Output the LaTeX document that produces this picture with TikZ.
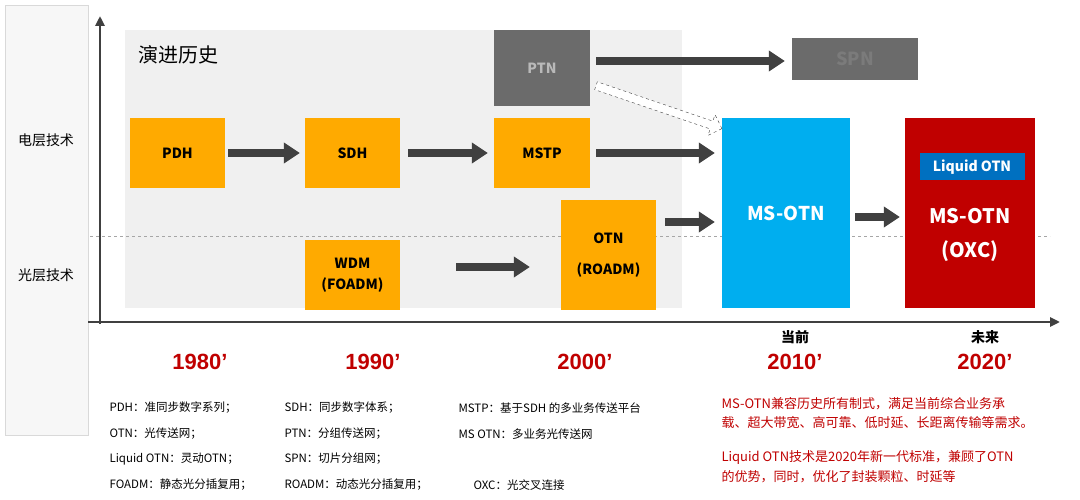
\documentclass[tikz,border=0pt]{standalone}
\usepackage{fontspec}
\setmainfont{Noto Sans CJK SC}
\newfontfamily\yrfont{Liberation Sans Bold}
\usetikzlibrary{arrows.meta,shapes.arrows}
\definecolor{org}{HTML}{FFAA00}
\definecolor{dg}{HTML}{6B6B6B}
\definecolor{arr}{HTML}{404040}
\definecolor{rd}{HTML}{C00000}
\definecolor{bl}{HTML}{00AEEF}
\definecolor{lq}{HTML}{0070C0}
\tikzset{
 box/.style={fill=org,inner sep=0,font=\fontsize{14}{17}\selectfont\bfseries,text=black,align=center},
 bigarr/.style={arr,line width=8pt,-{Triangle[width=20pt,length=16pt]}},
 yr/.style={text=rd,font=\fontsize{22}{24}\yrfont},
 note/.style={anchor=west,font=\fontsize{11.5}{13}\selectfont,text=black},
 rnote/.style={anchor=west,font=\fontsize{13}{16}\selectfont,text=rd},
}
\begin{document}
\begin{tikzpicture}[x=1pt,y=-1pt]
\useasboundingbox (0,0) rectangle (1080,500);
\fill[white] (0,0) rectangle (1080,500);
\draw[gray!30,fill=gray!6] (5,5) rectangle (88,435);
\node[font=\fontsize{14}{16}\selectfont] (l1) at (46,140) {电层技术};
\node[font=\fontsize{14}{16}\selectfont] (l2) at (46,275) {光层技术};
\fill[gray!12] (125,30) rectangle (682,308);
\node[anchor=west,font=\fontsize{20}{22}\selectfont] (hist) at (135,55) {演进历史};
\draw[gray!70,dashed] (90,236) -- (1050,236);
\draw[arr,line width=2.5pt,-{Triangle[width=9pt,length=10pt]}] (100,324) -- (100,16);
\draw[arr,line width=2.5pt,-{Triangle[width=9pt,length=10pt]}] (88,322) -- (1060,322);
\node[box,minimum width=95pt,minimum height=70pt] (pdh) at (177.5,153) {PDH};
\node[box,minimum width=95pt,minimum height=70pt] (sdh) at (352.5,153) {SDH};
\node[box,minimum width=96pt,minimum height=70pt] (mstp) at (542,153) {MSTP};
\node[box,fill=dg,text=gray!55,minimum width=96pt,minimum height=76pt] (ptn) at (542,68) {PTN};
\node[box,fill=dg,text=gray!80!dg,font=\fontsize{18}{20}\selectfont\bfseries,minimum width=126pt,minimum height=42pt] (spn) at (855,59) {SPN};
\node[box,minimum width=95pt,minimum height=70pt] (wdm) at (352.5,275) {WDM\\[4pt](FOADM)};
\node[box,minimum width=95pt,minimum height=110pt] (otn) at (608.5,255) {OTN\\[14pt](ROADM)};
\node[box,fill=bl,text=white,font=\fontsize{19}{22}\selectfont\bfseries,minimum width=128pt,minimum height=190pt] (ms) at (786,213) {MS-OTN};
\node[box,fill=rd,minimum width=130pt,minimum height=190pt] (oxc) at (970,213) {};
\node[text=white,font=\fontsize{20}{34}\selectfont\bfseries,align=center] (oxct) at (970,235) {MS-OTN\\(OXC)};
\node[fill=lq,text=white,font=\fontsize{14}{16}\selectfont\bfseries,inner sep=0,minimum width=105pt,minimum height=27pt] (liq) at (972,167) {Liquid OTN};
\draw[bigarr] ([xshift=3pt]pdh.east) -- ([xshift=-5pt]sdh.west);
\draw[bigarr] ([xshift=8pt]sdh.east) -- ([xshift=-6pt]mstp.west);
\draw[bigarr] ([xshift=6pt]mstp.east) -- ([xshift=-7pt]ms.west|-mstp.east);
\draw[bigarr] ([xshift=6pt]ptn.east|-0,61) -- ([xshift=-7pt]spn.west|-0,61);
\draw[bigarr] ([xshift=9pt]otn.east|-0,222) -- ([xshift=-7pt]ms.west|-0,222);
\draw[bigarr] ([xshift=56pt]wdm.east|-0,267) -- ([xshift=-31pt]otn.west|-0,267);
\draw[bigarr] ([xshift=5pt]ms.east|-0,217) -- ([xshift=-5pt]oxc.west|-0,217);
\node[single arrow,draw=arr,dashed,fill=white,minimum height=133pt,minimum width=22pt,single arrow head extend=2pt,single arrow head indent=0pt,inner sep=1pt,rotate=-18.8] (da) at (657,106.5) {};
\node[yr] (y1) at (200,362) {1980’};
\node[yr] (y2) at (373,362) {1990’};
\node[yr] (y3) at (585,362) {2000’};
\node[yr] (y4) at (795,362) {2010’};
\node[yr] (y5) at (985,362) {2020’};
\node[font=\fontsize{14}{16}\selectfont\bfseries] (cur) at (795,337) {当前};
\node[font=\fontsize{14}{16}\selectfont\bfseries] (fut) at (985,337) {未来};
\node[note] (n1) at (106,408) {PDH：准同步数字系列；};
\node[note] (n2) at (281,408) {SDH：同步数字体系；};
\node[note] (n3) at (455,408) {MSTP：基于SDH 的多业务传送平台};
\node[note] (n4) at (106,434) {OTN：光传送网；};
\node[note] (n5) at (281,434) {PTN：分组传送网；};
\node[note] (n6) at (455,434) {MS OTN：多业务光传送网};
\node[note] (n7) at (106,459) {Liquid OTN：灵动OTN；};
\node[note] (n8) at (281,459) {SPN：切片分组网；};
\node[note] (n9) at (106,485) {FOADM：静态光分插复用；};
\node[note] (n10) at (281,485) {ROADM：动态光分插复用；};
\node[note] (n11) at (470,485) {OXC：光交叉连接};
\node[rnote] (r1) at (718,404) {MS-OTN兼容历史所有制式，满足当前综合业务承};
\node[rnote] (r2) at (718,423) {载、超大带宽、高可靠、低时延、长距离传输等需求。};
\node[rnote] (r3) at (718,458) {Liquid OTN技术是2020年新一代标准，兼顾了OTN};
\node[rnote] (r4) at (718,477) {的优势，同时，优化了封装颗粒、时延等};
\end{tikzpicture}
\end{document}
